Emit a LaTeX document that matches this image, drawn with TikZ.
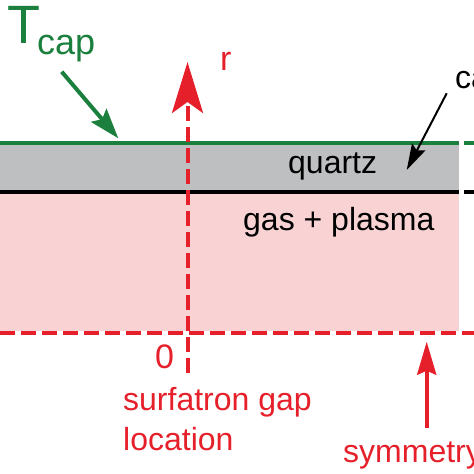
\documentclass[tikz,border=0pt]{standalone}
\usepackage{fontspec}
\setmainfont{Liberation Sans}
\usetikzlibrary{arrows.meta}
\definecolor{capgreen}{HTML}{1B7F3E}
\definecolor{axred}{HTML}{E6202B}
\definecolor{quartzgray}{HTML}{BEBFC1}
\definecolor{plasmapink}{HTML}{F9D3D4}
\tikzset{
  lbl/.style={inner sep=0pt, anchor=base west, font=\fontsize{32}{38}\selectfont},
  reddash/.style={draw=axred, line width=4pt, dash pattern=on 15pt off 6pt},
}
\begin{document}
\begin{tikzpicture}[x=1pt,y=-1pt]
\useasboundingbox (0,0) rectangle (474,474);
% layers
\fill[plasmapink] (0,192) rectangle (459,331);
\fill[quartzgray] (0,143) rectangle (459,192);
\draw[capgreen, line width=3.5pt] (0,143) -- (459,143);
\draw[capgreen, line width=3.5pt] (464,143) -- (474,143);
\draw[black, line width=3.5pt] (0,192) -- (459,192);
\draw[black, line width=3.5pt] (464,192) -- (474,192);
% axes
\coordinate (zbottom) at (187.5,373);
\coordinate (rtip) at (187.5,62);
\coordinate (hleft) at (0,333);
\coordinate (hright) at (474,333);
\draw[reddash] (hleft) -- (hright);
\draw[reddash, -{Stealth[length=51pt,width=31pt,inset=11pt]}] (zbottom) -- (rtip);
% texts
\node[lbl, text=capgreen, font=\fontsize{54}{60}\selectfont] (T) at (7,43) {T};
\node[lbl, text=capgreen, font=\fontsize{36}{42}\selectfont] (cap) at (37,54) {cap};
\node[lbl, text=axred, font=\fontsize{34}{40}\selectfont] (r) at (220,70) {r};
\node[lbl] (ca) at (455,88) {ca};
\node[lbl] (quartz) at (288,173) {quartz};
\node[lbl] (gas) at (243,230) {gas + plasma};
\node[lbl, text=axred, font=\fontsize{34}{40}\selectfont] (zero) at (155,368) {0};
\node[lbl, text=axred] (surf) at (123,410) {surfatron gap};
\node[lbl, text=axred] (loc) at (123,450) {location};
\node[lbl, text=axred] (sym) at (343,462) {symmetry};
% pointer arrows
\coordinate (gstart) at (61.7,71.7);
\coordinate (gtip) at (118.3,138.3);
\draw[capgreen, line width=4pt, -{Stealth[length=30pt,width=20pt,inset=5pt]}] (gstart) -- (gtip);
\coordinate (bstart) at (446.7,93.3);
\coordinate (btip) at (406.7,170);
\draw[black, line width=2pt, -{Stealth[length=26pt,width=15pt,inset=4pt]}] (bstart) -- (btip);
\coordinate (sstart) at (426.7,428);
\coordinate (stip) at (426.7,341.7);
\draw[axred, line width=4pt, -{Stealth[length=33pt,width=19pt,inset=4pt]}] (sstart) -- (stip);
\end{tikzpicture}
\end{document}
